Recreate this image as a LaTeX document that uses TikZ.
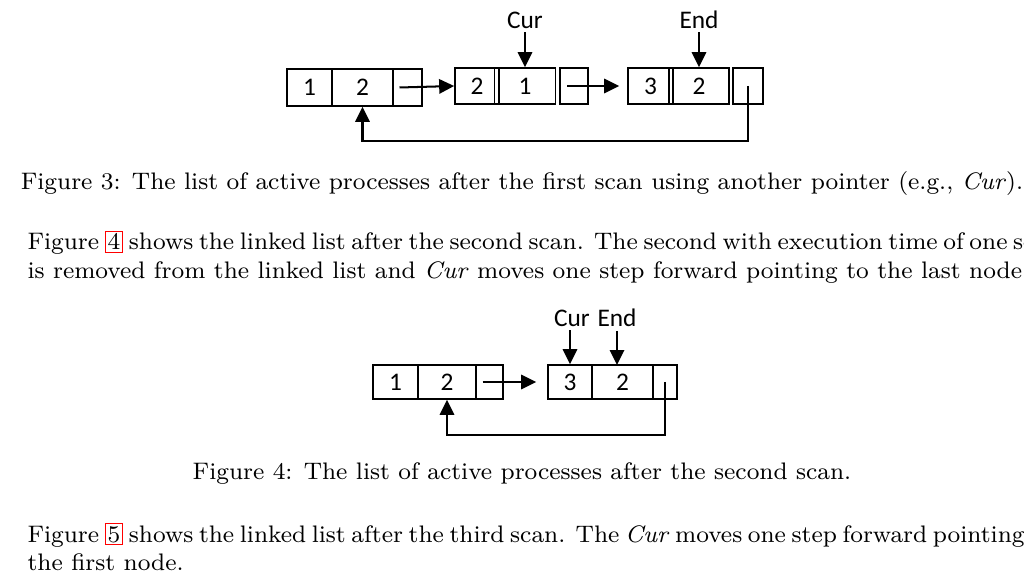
\documentclass[tikz,border=0pt]{standalone}
\usepackage{fontspec}
\newfontfamily\calib{Carlito}
\usetikzlibrary{arrows.meta,calc}
\def\u{0.3472pt}
\begin{document}
\begin{tikzpicture}[x=\u,y=-\u,
  cell/.style={draw,line width=0.6pt,inner sep=0,font=\calib\fontsize{8.8}{10}\selectfont},
  arr/.style={line width=0.7pt,-{Triangle[length=5.2pt,width=5pt]}},
  lbl/.style={font=\calib\fontsize{8.8}{10}\selectfont,inner sep=0},
  txt/.style={font=\fontsize{8.3}{10}\selectfont,inner sep=0,anchor=base west},
  captxt/.style={font=\fontsize{8.3}{10}\selectfont,inner sep=0,anchor=base}]
\useasboundingbox (0,0) rectangle (1024,580);
\def\rbox#1{{\fboxsep=0.6pt\fboxrule=0.4pt\color{red}\fbox{\color{black}#1}}}
% diagram 1
\node[cell,minimum width=45*\u,minimum height=37*\u] (a1) at (309.5,87.5) {1};
\node[cell,minimum width=61*\u,minimum height=37*\u] (a2) at (362.5,87.5) {2};
\node[cell,minimum width=29*\u,minimum height=37*\u] (a3) at (407.5,87.5) {};
\node[cell,minimum width=44*\u,minimum height=36*\u] (b1) at (477,86) {2};
\node[cell,minimum width=61*\u,minimum height=36*\u] (b2) at (525,86) {1};
\node[cell,minimum width=28*\u,minimum height=36*\u] (b3) at (574,86) {};
\node[cell,minimum width=45*\u,minimum height=36*\u] (e1) at (650.5,86) {3};
\node[cell,minimum width=60*\u,minimum height=36*\u] (e2) at (699,86) {2};
\node[cell,minimum width=30*\u,minimum height=36*\u] (e3) at (748,86) {};
\draw[arr] ($(a3.center)+(-8,0)$) -- (b1.west);
\draw[arr] ($(b3.center)+(-7,0)$) -- ($(e1.west)+(-8,0)$);
\coordinate (d1) at (748,141);
\draw[arr] (e3.center) -- (d1) -| (a2.south);
\node[lbl,anchor=base] (cur1) at (525,29) {Cur};
\node[lbl,anchor=base] (end1) at (699,29) {End};
\draw[arr] ($(b2.north)+(0,-35)$) -- (b2.north);
\draw[arr] ($(e2.north)+(0,-35)$) -- (e2.north);
\node[captxt] (cap1) at (522,190) {Figure 3: The list of active processes after the first scan using another pointer (e.g., \textit{Cur}).};
\node[txt] (p1) at (27,250) {\makebox[286pt][s]{Figure \rbox{4} shows the linked list after the second scan. The second with execution time of one second}};
\node[txt] (p2) at (27,279) {is removed from the linked list and \textit{Cur} moves one step forward pointing to the last node.};
% diagram 2
\node[cell,minimum width=45*\u,minimum height=34*\u] (f1) at (395.5,382) {1};
\node[cell,minimum width=58*\u,minimum height=34*\u] (f2) at (447,382) {2};
\node[cell,minimum width=27*\u,minimum height=34*\u] (f3) at (489.5,382) {};
\node[cell,minimum width=44*\u,minimum height=34*\u] (g1) at (570,382) {3};
\node[cell,minimum width=61*\u,minimum height=34*\u] (g2) at (622.5,382) {2};
\node[cell,minimum width=24*\u,minimum height=34*\u] (g3) at (665,382) {};
\draw[arr] ($(f3.center)+(-7,0)$) -- ($(g1.west)+(-11,0)$);
\coordinate (d2) at (665,435);
\draw[arr] (g3.center) -- (d2) -| (f2.south);
\node[lbl,anchor=base] (cur2) at (572,327) {Cur};
\node[lbl,anchor=base] (end2) at (617,327) {End};
\draw[arr] ($(g1.north)+(0,-34)$) -- (g1.north);
\draw[arr] (617,331) -- (617,365);
\node[captxt] (cap2) at (522,479) {Figure 4: The list of active processes after the second scan.};
\node[txt] (p3) at (27,542) {\makebox[286pt][s]{Figure \rbox{5} shows the linked list after the third scan. The \textit{Cur} moves one step forward pointing to}};
\node[txt] (p4) at (27,570) {the first node.};
\end{tikzpicture}
\end{document}
